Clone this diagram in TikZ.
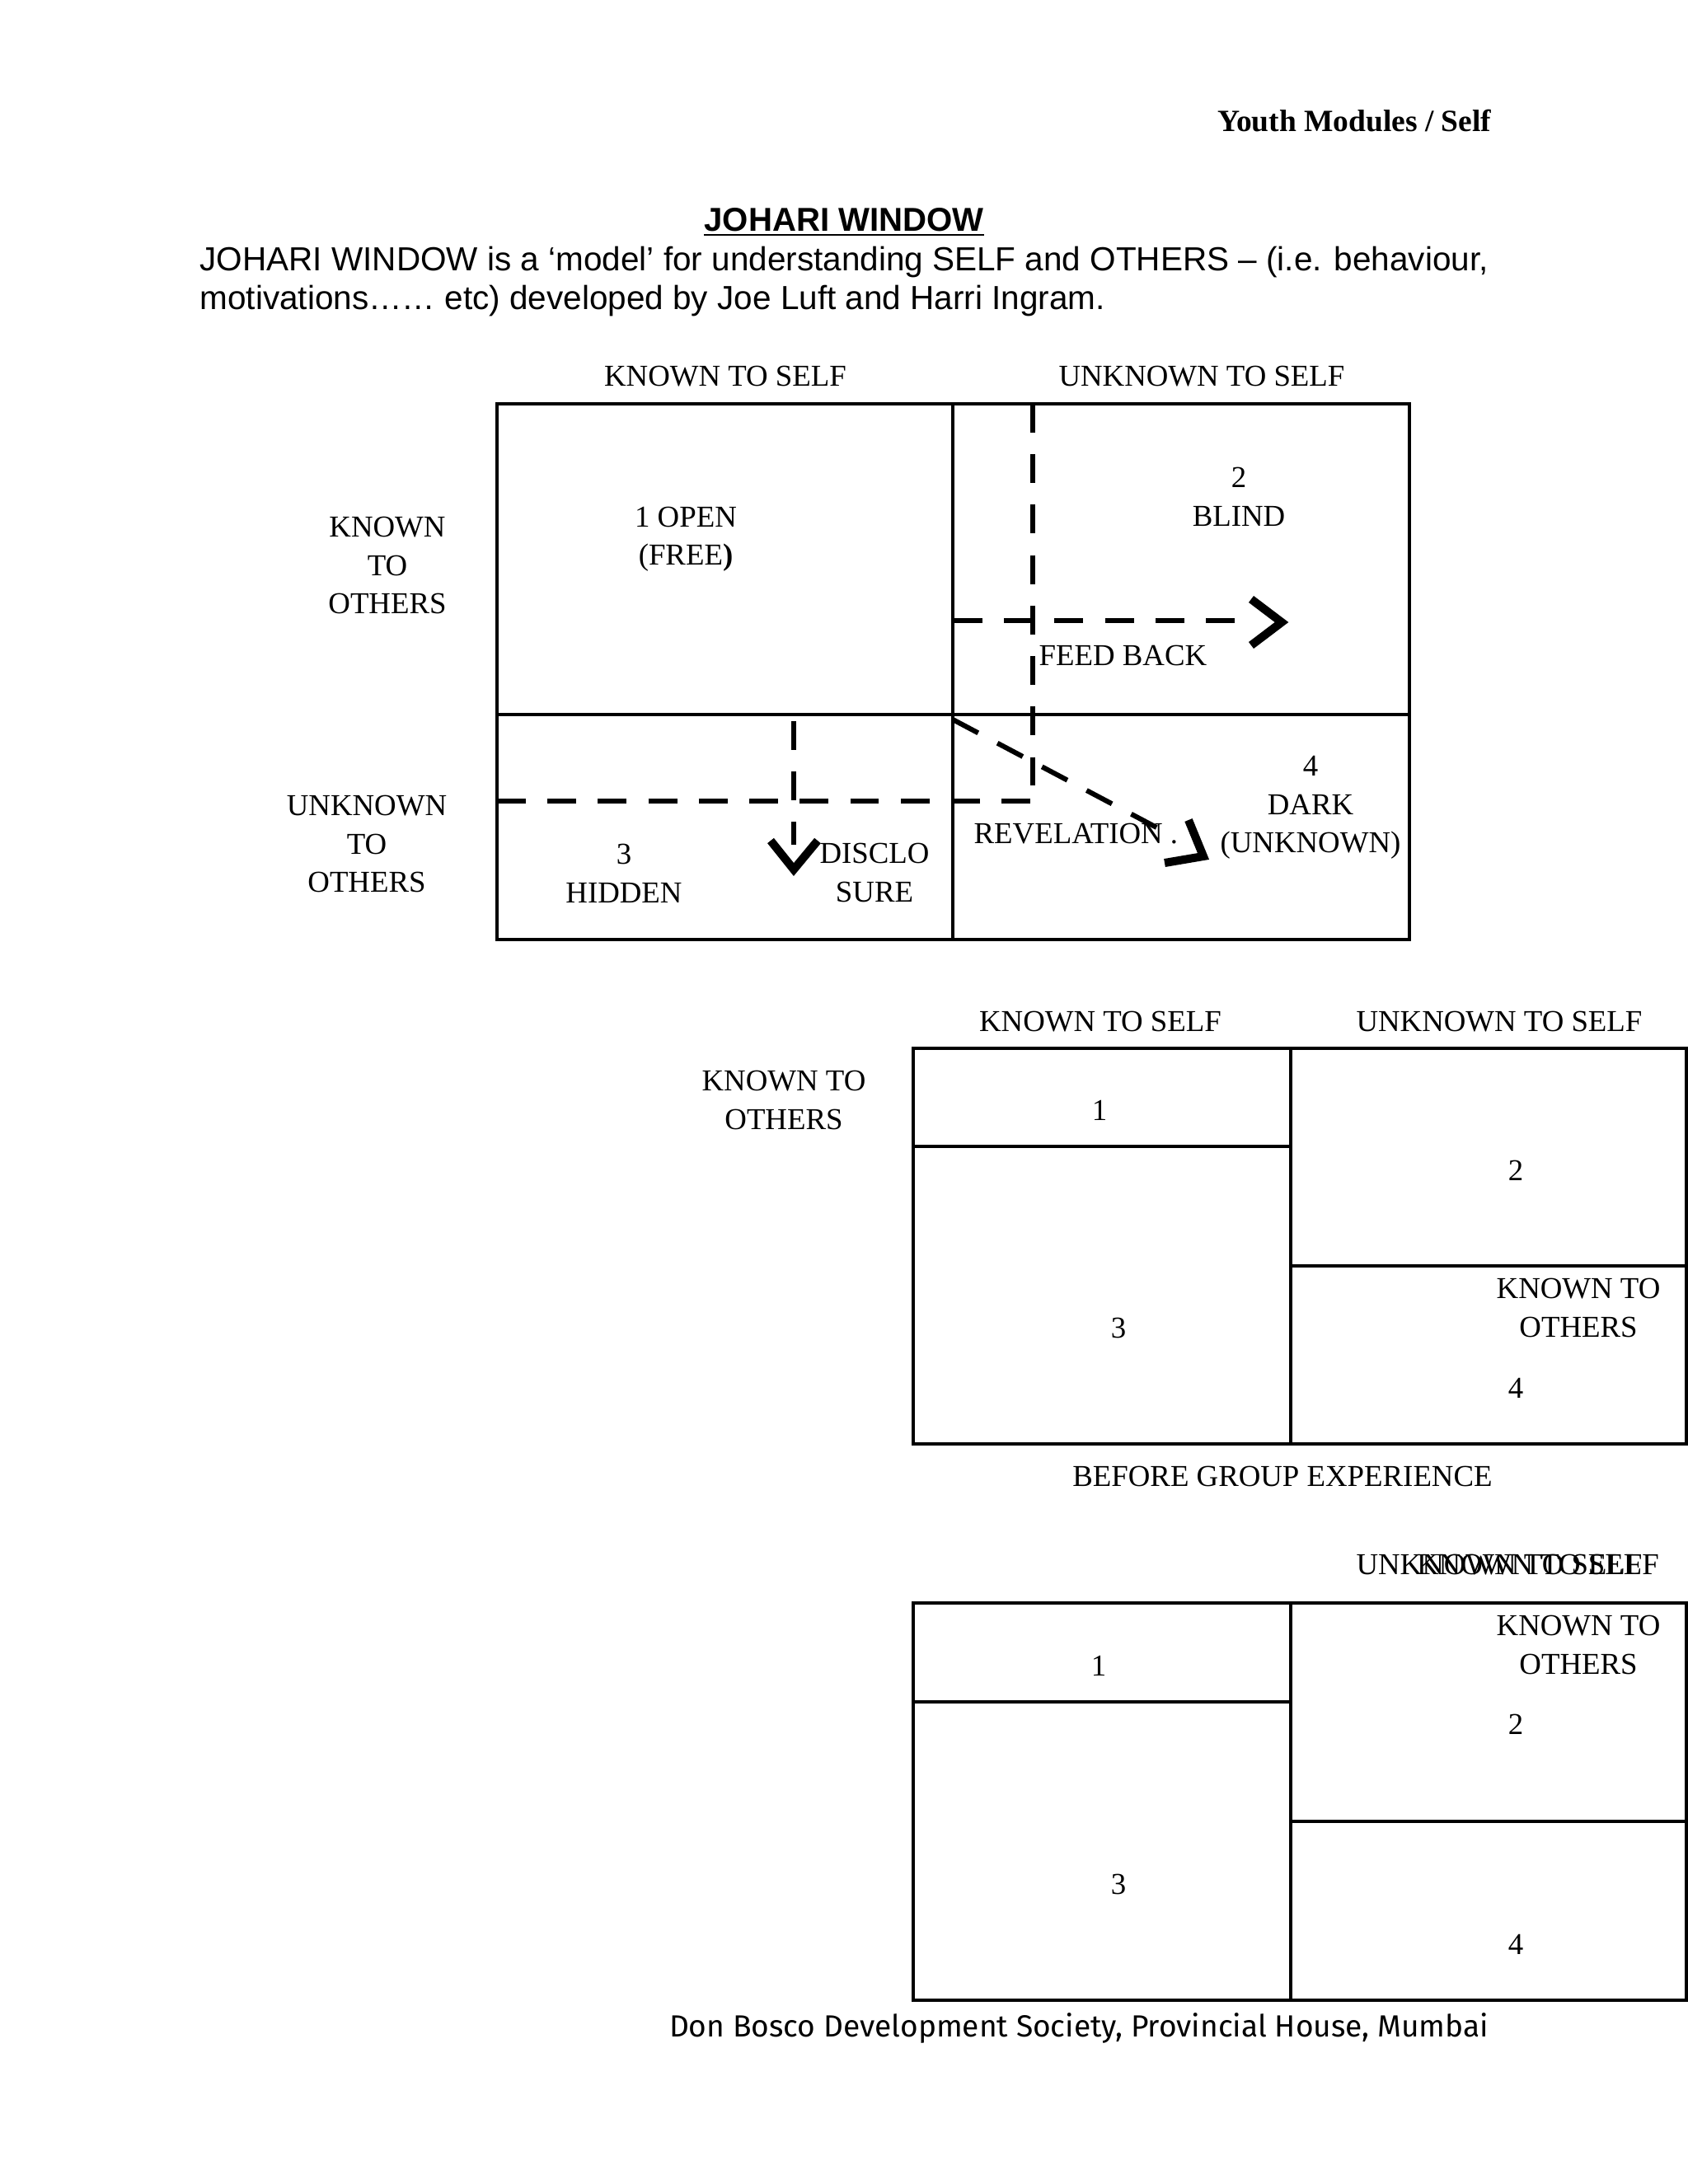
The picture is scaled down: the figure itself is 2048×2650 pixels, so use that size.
\documentclass[tikz,border=0pt]{standalone}
\usepackage{fontspec}
\usepackage{graphicx}
\setmainfont{Liberation Serif}
\newfontfamily\arialf{Liberation Sans}
\newfontfamily\footf{Fira Sans}
\begin{document}
\begin{tikzpicture}[x=0.29883pt,y=-0.29883pt,
  lbl/.style={font=\fontsize{11}{13.9}\selectfont, inner sep=0pt, align=center},
  box/.style={line width=1pt},
  dashline/.style={line width=1.8pt, dash pattern=on 10.4pt off 7.9pt},
  chev/.style={line width=3pt, line join=miter, line cap=butt}]
\useasboundingbox[fill=white] (0,0) rectangle (2048,2650);

% ---- page header and intro ----
\node[anchor=base east, inner sep=0pt, font=\bfseries\fontsize{11.2}{13}\selectfont] (hdr) at (1810,159) {Youth Modules / Self};
\node[anchor=base, inner sep=0pt, font=\arialf\bfseries\fontsize{12}{14}\selectfont] (title) at (1024,280) {\underline{JOHARI WINDOW}};
\node[anchor=base west, inner sep=0pt, font=\arialf\fontsize{12.1}{14}\selectfont] (intro1) at (242,328) {JOHARI WINDOW is a ‘model’ for understanding SELF and OTHERS – (i.e. behaviour,};
\node[anchor=base west, inner sep=0pt, font=\arialf\fontsize{12.1}{14}\selectfont] (intro2) at (242,375) {motivations…… etc) developed by Joe Luft and Harri Ingram.};

% ---- window 1 ----
\draw[box] (603,490) rectangle (1710,1140);
\draw[box] (1156,490) -- (1156,1140);
\draw[box] (603,867) -- (1710,867);

\node[lbl] (ks1) at (880,457) {KNOWN TO SELF};
\node[lbl] (us1) at (1458,457) {UNKNOWN TO SELF};
\node[lbl] (ko1) at (470,686) {KNOWN\\TO\\OTHERS};
\node[lbl] (uo1) at (445,1024) {UNKNOWN\\TO\\OTHERS};
\node[lbl] (open) at (832,654) {1 OPEN\\(FREE\textbf{)}};
\node[lbl] (blind) at (1503,603) {2\\BLIND};
\node[lbl, anchor=west] (feed) at (1260,795) {FEED BACK};
\node[lbl] (dark) at (1590,980) {4\\DARK\\(UNKNOWN)};
\node[lbl, anchor=base west] (rev) at (1181,1023) {REVELATION .};
\node[lbl] (hidden) at (757,1060) {3\\HIDDEN};
\node[lbl] (disc) at (1061,1059) {DISCLO\\SURE};

% open-area boundary (dashed L)
\coordinate (lA) at (603,972);
\coordinate (lB) at (1253,972);
\coordinate (lC) at (1253,490);
\draw[dashline] (lA) -- (lB);
\draw[dashline] (lC) -- (lB);

% feedback arrow
\coordinate (fbS) at (1157,753);
\coordinate (fbE) at (1500,753);
\draw[dashline] (fbS) -- (fbE);
\coordinate (fbT) at (1555,755);
\draw[chev] (1518,727) -- (fbT) -- (1518,783);

% disclosure arrow
\coordinate (dsS) at (963,875);
\coordinate (dsE) at (963,1025);
\draw[dashline] (dsS) -- (dsE);
\coordinate (dsT) at (963,1055);
\draw[chev] (935,1020) -- (dsT) -- (992,1020);

% revelation arrow
\coordinate (rvS) at (1156,873);
\coordinate (rvE) at (1407,1006);
\draw[dashline] (rvS) -- (rvE);
\coordinate (rvT) at (1460,1039);
\draw[chev] (1442,995) -- (rvT) -- (1413,1047);

% ---- window 2 ----
\draw[box] (1108,1272) rectangle (2046,1752);
\draw[box] (1566,1272) -- (1566,1752);
\draw[box] (1108,1391) -- (1566,1391);
\draw[box] (1566,1536) -- (2046,1536);

\node[lbl] (ks2) at (1335,1240) {KNOWN TO SELF};
\node[lbl] (us2) at (1819,1240) {UNKNOWN TO SELF};
\node[lbl] (ko2) at (951,1335) {KNOWN TO\\OTHERS};
\node[lbl] (c21) at (1334,1347) {1};
\node[lbl] (c22) at (1839,1420) {2};
\node[lbl] (c23) at (1357,1611) {3};
\node[lbl] (ko2b) at (1915,1587) {KNOWN TO\\OTHERS};
\node[lbl] (c24) at (1839,1684) {4};
\node[lbl] (before) at (1556,1791) {BEFORE GROUP EXPERIENCE};

% ---- window 3 ----
\draw[box] (1108,1945) rectangle (2046,2427);
\draw[box] (1566,1945) -- (1566,2427);
\draw[box] (1108,2065) -- (1566,2065);
\draw[box] (1566,2210) -- (2046,2210);

\node[lbl] (us3) at (1819,1899) {UNKNOWN TO SELF};
\node[lbl] (ks3) at (1866,1899) {KNOWN TO SELF};
\node[lbl] (c31) at (1333,2021) {1};
\node[lbl] (ko3) at (1915,1996) {KNOWN TO\\OTHERS};
\node[lbl] (c32) at (1839,2092) {2};
\node[lbl] (c33) at (1357,2286) {3};
\node[lbl] (c34) at (1839,2359) {4};

% ---- footer ----
\node[inner sep=0pt, font=\footf\fontsize{12}{14}\selectfont] (foot) at (1309,2461) {\resizebox{297pt}{!}{Don Bosco Development Society, Provincial House, Mumbai}};
\end{tikzpicture}
\end{document}
